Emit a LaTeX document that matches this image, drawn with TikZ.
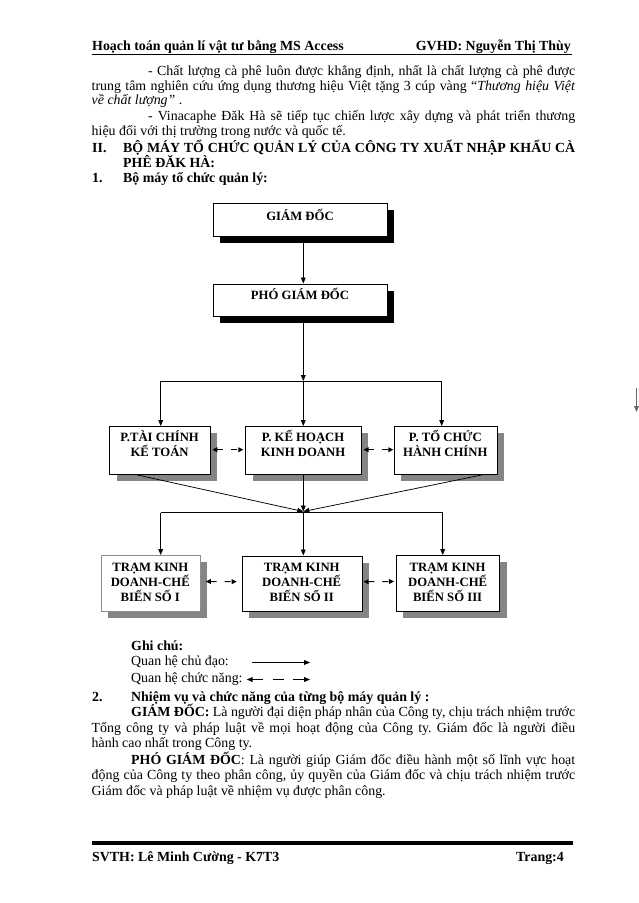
\documentclass[tikz,border=0pt]{standalone}
\usepackage{fontspec}
\setmainfont{Liberation Serif}
\usetikzlibrary{arrows.meta,shadows,calc}
\newcommand\jline[2]{\makebox[#1][s]{#2}}
\frenchspacing
\begin{document}
\begin{tikzpicture}[x=1pt,y=-1pt,
  txt/.style={inner sep=0, anchor=base west, font=\frenchspacing\fontsize{13.9}{16}\selectfont},
  btxt/.style={txt, font=\frenchspacing\bfseries\fontsize{13.9}{16}\selectfont},
  rtxt/.style={btxt, anchor=base east},
  box/.style={draw, line width=0.8pt, fill=white, inner sep=0, anchor=north west},
  bshadow/.style={general shadow={fill=black, shadow xshift=7pt, shadow yshift=-7pt}},
  gshadow/.style={general shadow={fill=black!48, shadow xshift=7pt, shadow yshift=-7pt}},
  lbl/.style={inner sep=0, anchor=base, font=\bfseries\fontsize{12.7}{14}\selectfont},
  arr/.style={-{Triangle[length=6pt,width=4.8pt]}, line width=0.75pt},
  link/.style={line width=0.75pt},
  darr/.style={{Triangle[length=5pt,width=4.8pt]}-{Triangle[length=5pt,width=4.8pt]}, line width=1pt, dash pattern=on 6pt off 8pt},
  ldarr/.style={{Triangle[length=6pt,width=4.8pt]}-{Triangle[length=6pt,width=4.8pt]}, line width=1pt, dash pattern=on 11pt off 9.2pt},
]
\useasboundingbox (0,0) rectangle (638,903);
\fill[white] (0,0) rectangle (638,903);

% header
\node[btxt] (hdl) at (92,50.5) {Hoạch toán quản lí vật tư bằng MS Access};
\node[rtxt] (hdr) at (571,50.5) {GVHD: Nguyễn Thị Thùy};
\coordinate (hu1) at (92,54);
\coordinate (hu2) at (572,54);
\draw[line width=0.9pt] (hu1) -- (hu2);

% top text
\node[txt] (l1) at (148,75.5) {\jline{427pt}{- Chất lượng cà phê luôn được khẳng định, nhất là chất lượng cà phê được}};
\node[txt] (l2) at (91.5,90) {\jline{483.5pt}{trung tâm nghiên cứu ứng dụng thương hiệu Việt tặng 3 cúp vàng “\textit{Thương hiệu Việt}}};
\node[txt] (l3) at (91.5,104.5) {\textit{về chất lượng”} .};
\node[txt] (l4) at (148,120) {\jline{427pt}{- Vinacaphe Đăk Hà sẽ tiếp tục chiến lược xây dựng và phát triển thương}};
\node[txt] (l5) at (91.5,135) {hiệu đối với thị trường trong nước và quốc tế.};
\node[btxt] (h1n) at (92,152) {II.};
\node[btxt] (h1) at (123,152) {\jline{452pt}{BỘ MÁY TỔ CHỨC QUẢN LÝ CỦA CÔNG TY XUẤT NHẬP KHẨU CÀ}};
\node[btxt] (h1b) at (123,167) {PHÊ ĐĂK HÀ:};
\node[btxt] (h2n) at (92,182) {1.};
\node[btxt] (h2) at (123,182) {Bộ máy tổ chức quản lý:};

% boxes
\node[box, bshadow, minimum width=174.3pt, minimum height=33pt] (gd) at (212.7,203) {};
\node[box, bshadow, minimum width=174.3pt, minimum height=32.5pt] (pgd) at (212.7,283.5) {};
\node[box, gshadow, minimum width=100.7pt, minimum height=48pt] (p1) at (109.3,426) {};
\node[box, gshadow, minimum width=115.4pt, minimum height=48pt] (p2) at (245.3,426) {};
\node[box, gshadow, minimum width=102.7pt, minimum height=48pt] (p3) at (394,426) {};
\node[box, gshadow, draw=black!45, minimum width=99.3pt, minimum height=55.7pt] (t1) at (100.7,555) {};
\node[box, gshadow, minimum width=120pt, minimum height=55.2pt] (t2) at (241.7,555.5) {};
\node[box, gshadow, minimum width=103.3pt, minimum height=55.7pt] (t3) at (396,555) {};

% box texts
\node[lbl] (gdt) at (300,220) {GIÁM ĐỐC};
\node[lbl] (pgdt) at (300,299.5) {PHÓ GIÁM ĐỐC};
\node[lbl] (p1a) at (159.6,441.5) {P.TÀI CHÍNH};
\node[lbl] (p1b) at (159.6,456) {KẾ TOÁN};
\node[lbl] (p2a) at (303,441.5) {P. KẾ HOẠCH};
\node[lbl] (p2b) at (303,456) {KINH DOANH};
\node[lbl] (p3a) at (445.3,441.5) {P. TỔ CHỨC};
\node[lbl] (p3b) at (445.3,456) {HÀNH CHÍNH};
\node[lbl] (t1a) at (150.3,571.5) {TRẠM KINH};
\node[lbl] (t1b) at (150.3,586) {DOANH-CHẾ};
\node[lbl] (t1c) at (150.3,601) {BIẾN SỐ I};
\node[lbl] (t2a) at (301.7,571.5) {TRẠM KINH};
\node[lbl] (t2b) at (301.7,586) {DOANH-CHẾ};
\node[lbl] (t2c) at (301.7,601) {BIẾN SỐ II};
\node[lbl] (t3a) at (447.6,571.5) {TRẠM KINH};
\node[lbl] (t3b) at (447.6,586) {DOANH-CHẾ};
\node[lbl] (t3c) at (447.6,601) {BIẾN SỐ III};

% junction coordinates
\coordinate (j1) at (303.3,381);
\coordinate (hl) at (160.7,381);
\coordinate (hr) at (441.7,381);
\coordinate (j2) at (303.3,511.5);
\coordinate (hl2) at (160.7,512.7);
\coordinate (hr2) at (442.7,512.7);

% main connectors
\draw[arr] (gd.south -| j1) -- (pgd.north -| j1);
\draw[arr] (pgd.south -| j1) -- (j1);
\draw[link] (hl) -- (hr);
\draw[arr] (hl) -- (hl |- p1.north);
\draw[arr] (j1) -- (j1 |- p2.north);
\draw[arr] (hr) -- (hr |- p3.north);

\draw[arr] ($(p1.south west)+(27.4,0)$) -- (j2);
\draw[arr] (p2.south -| j2) -- (j2);
\draw[arr] ($(p3.south east)+(-15,0)$) -- (j2);
\draw[link] (hl2) -- (hr2);
\draw[arr] (hl2) -- (hl2 |- t1.north);
\draw[arr] (j2) -- (j2 |- t2.north);
\draw[arr] (hr2) -- (hr2 |- t3.north);

% functional relations
\draw[darr] ($(p1.east)+(1.5,-0.7)$) -- ($(p2.west)+(-2,-0.7)$);
\draw[darr] ($(p2.east)+(2,-0.7)$) -- ($(p3.west)+(-0.7,-0.7)$);
\draw[darr] ($(t1.east)+(5,-1.8)$) -- ($(t2.west)+(-5,-1.8)$);
\draw[darr] ($(t2.east)+(1,-1.8)$) -- ($(t3.west)+(-2,-1.8)$);

% legend
\node[btxt] (gc) at (131,650) {Ghi chú:};
\node[txt] (q1) at (131,665.5) {Quan hệ chủ đạo:};
\node[txt] (q2) at (131,682) {Quan hệ chức năng:};
\coordinate (la1) at (251.7,662.5);
\coordinate (la2) at (310,662.5);
\coordinate (lb1) at (246.7,679.5);
\coordinate (lb2) at (310,679.5);
\draw[arr] (la1) -- (la2);
\draw[ldarr] (lb1) -- (lb2);

% section 2
\node[btxt] (s2n) at (92,701.5) {2.};
\node[btxt] (s2) at (131,701.5) {Nhiệm vụ và chức năng của từng bộ máy quản lý :};
\node[txt] (m1) at (131,716.5) {\jline{444pt}{\textbf{GIÁM ĐỐC:} Là người đại diện pháp nhân của Công ty, chịu trách nhiệm trước}};
\node[txt] (m2) at (91.5,732.3) {\jline{483.5pt}{Tổng công ty và pháp luật về mọi hoạt động của Công ty. Giám đốc là người điều}};
\node[txt] (m3) at (91.5,747.5) {hành cao nhất trong Công ty.};
\node[txt] (m4) at (131,764) {\jline{444pt}{\textbf{PHÓ GIÁM ĐỐC}: Là người giúp Giám đốc điều hành một số lĩnh vực hoạt}};
\node[txt] (m5) at (91.5,779.7) {\jline{483.5pt}{động của Công ty theo phân công, ủy quyền của Giám đốc và chịu trách nhiệm trước}};
\node[txt] (m6) at (91.5,795) {Giám đốc và pháp luật về nhiệm vụ được phân công.};

% footer
\coordinate (f1) at (92,842.5);
\coordinate (f2) at (573,842.5);
\draw[line width=4pt] (f1) -- (f2);
\node[btxt] (fl) at (92,861) {SVTH: Lê Minh Cường - K7T3};
\node[rtxt] (fr) at (564,861) {Trang:4};

% edge mark at right border
\coordinate (e1) at (636.5,388);
\coordinate (e2) at (636.5,412);
\draw[arr, draw=black!60, line width=0.6pt] (e1) -- (e2);
\end{tikzpicture}
\end{document}
